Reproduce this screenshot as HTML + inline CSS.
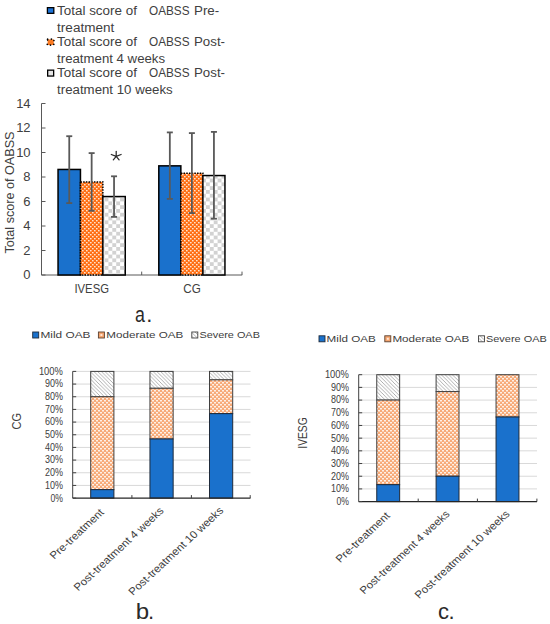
<!DOCTYPE html><html><head><meta charset="utf-8"><style>html,body{margin:0;padding:0;background:#fff;}svg{display:block;}text{font-family:"Liberation Sans",sans-serif;}</style></head><body>
<svg width="550" height="624" viewBox="0 0 550 624">
<defs>
<pattern id="or1" patternUnits="userSpaceOnUse" width="4" height="4"><rect width="4" height="4" fill="#ff6e12"/><rect x="0" y="0" width="1.6" height="1.4" fill="#ffe4cf"/><rect x="2" y="2" width="1.6" height="1.4" fill="#ffe4cf"/></pattern>
<pattern id="ck1" patternUnits="userSpaceOnUse" width="7.8" height="7.6" x="104.5" y="0"><rect width="7.8" height="7.6" fill="#ffffff"/><rect x="0" y="0" width="3.9" height="3.8" fill="#d2d2d2"/><rect x="3.9" y="3.8" width="3.9" height="3.8" fill="#d2d2d2"/></pattern>
<pattern id="or2" patternUnits="userSpaceOnUse" width="4" height="4"><rect width="4" height="4" fill="#f7aa78"/><rect x="0.1" y="0" width="1.8" height="1.5" fill="#fff8f2"/><rect x="2.1" y="2" width="1.8" height="1.5" fill="#fff8f2"/></pattern>
<pattern id="ht" patternUnits="userSpaceOnUse" width="3.7" height="3.7"><rect width="3.7" height="3.7" fill="#fff"/><path d="M-1,-1 L4.7,4.7 M-1,2.7 L1,4.7 M2.7,-1 L4.7,1" stroke="#a8a8a8" stroke-width="0.9"/></pattern>
</defs>
<text x="57.1" y="14.5" font-size="12" fill="#404040" text-anchor="start" textLength="79.8" lengthAdjust="spacingAndGlyphs" >Total score of</text>
<text x="149.0" y="14.5" font-size="12" fill="#404040" text-anchor="start" textLength="40.5" lengthAdjust="spacingAndGlyphs" >OABSS</text>
<text x="194.0" y="14.5" font-size="12" fill="#404040" text-anchor="start" textLength="25.2" lengthAdjust="spacingAndGlyphs" >Pre-</text>
<text x="57.1" y="31.9" font-size="12" fill="#404040" text-anchor="start" textLength="57.2" lengthAdjust="spacingAndGlyphs" >treatment</text>
<text x="57.1" y="46.3" font-size="12" fill="#404040" text-anchor="start" textLength="79.8" lengthAdjust="spacingAndGlyphs" >Total score of</text>
<text x="149.0" y="46.3" font-size="12" fill="#404040" text-anchor="start" textLength="40.5" lengthAdjust="spacingAndGlyphs" >OABSS</text>
<text x="194.0" y="46.3" font-size="12" fill="#404040" text-anchor="start" textLength="31.0" lengthAdjust="spacingAndGlyphs" >Post-</text>
<text x="57.1" y="63.4" font-size="12" fill="#404040" text-anchor="start" textLength="108.0" lengthAdjust="spacingAndGlyphs" >treatment 4 weeks</text>
<text x="57.1" y="77.4" font-size="12" fill="#404040" text-anchor="start" textLength="79.8" lengthAdjust="spacingAndGlyphs" >Total score of</text>
<text x="149.0" y="77.4" font-size="12" fill="#404040" text-anchor="start" textLength="40.5" lengthAdjust="spacingAndGlyphs" >OABSS</text>
<text x="194.0" y="77.4" font-size="12" fill="#404040" text-anchor="start" textLength="31.0" lengthAdjust="spacingAndGlyphs" >Post-</text>
<text x="57.1" y="94.4" font-size="12" fill="#404040" text-anchor="start" textLength="115.6" lengthAdjust="spacingAndGlyphs" >treatment 10 weeks</text>
<rect x="47.4" y="7.65" width="6.4" height="5.7" fill="#1d74d8" stroke="#000" stroke-width="1.3"/>
<rect x="47.6" y="39.4" width="6.2" height="5.6" fill="#f97a22"/>
<ellipse cx="47.6" cy="39.6" rx="0.8" ry="1.3" fill="#000"/>
<circle cx="51.4" cy="39.1" r="0.85" fill="#000"/>
<circle cx="53.9" cy="40.5" r="0.85" fill="#000"/>
<circle cx="47.3" cy="44.3" r="0.85" fill="#000"/>
<circle cx="50.5" cy="45.1" r="0.85" fill="#000"/>
<circle cx="53.8" cy="44.3" r="0.85" fill="#000"/>
<rect x="47.65" y="70.15" width="6.0" height="5.9" fill="#e4e4e4" stroke="#000" stroke-width="1.3"/>
<line x1="41.5" y1="103.5" x2="41.5" y2="275.0" stroke="#595959" stroke-width="1"/>
<line x1="41.5" y1="275.0" x2="45.5" y2="275.0" stroke="#595959" stroke-width="1"/>
<text x="30.6" y="279.25" font-size="13" fill="#404040" text-anchor="end" >0</text>
<line x1="41.5" y1="250.5" x2="45.5" y2="250.5" stroke="#595959" stroke-width="1"/>
<text x="30.6" y="254.75" font-size="13" fill="#404040" text-anchor="end" >2</text>
<line x1="41.5" y1="226.0" x2="45.5" y2="226.0" stroke="#595959" stroke-width="1"/>
<text x="30.6" y="230.25" font-size="13" fill="#404040" text-anchor="end" >4</text>
<line x1="41.5" y1="201.5" x2="45.5" y2="201.5" stroke="#595959" stroke-width="1"/>
<text x="30.6" y="205.75" font-size="13" fill="#404040" text-anchor="end" >6</text>
<line x1="41.5" y1="177.0" x2="45.5" y2="177.0" stroke="#595959" stroke-width="1"/>
<text x="30.6" y="181.25" font-size="13" fill="#404040" text-anchor="end" >8</text>
<line x1="41.5" y1="152.5" x2="45.5" y2="152.5" stroke="#595959" stroke-width="1"/>
<text x="30.6" y="156.75" font-size="13" fill="#404040" text-anchor="end" >10</text>
<line x1="41.5" y1="128.0" x2="45.5" y2="128.0" stroke="#595959" stroke-width="1"/>
<text x="30.6" y="132.25" font-size="13" fill="#404040" text-anchor="end" >12</text>
<line x1="41.5" y1="103.5" x2="45.5" y2="103.5" stroke="#595959" stroke-width="1"/>
<text x="30.6" y="107.75" font-size="13" fill="#404040" text-anchor="end" >14</text>
<line x1="41.5" y1="275.0" x2="242.2" y2="275.0" stroke="#595959" stroke-width="1"/>
<line x1="141.7" y1="271.6" x2="141.7" y2="275.0" stroke="#595959" stroke-width="1"/>
<line x1="242.0" y1="271.6" x2="242.0" y2="275.0" stroke="#595959" stroke-width="1"/>
<text transform="translate(13.7,192.5) rotate(-90)" x="0" y="0" font-size="12.4" fill="#404040" text-anchor="middle" textLength="122" lengthAdjust="spacingAndGlyphs">Total score of OABSS</text>
<rect x="58.05" y="169.45" width="22.4" height="105.55" fill="#1a71cc" stroke="#000" stroke-width="1.5"/>
<rect x="80.45" y="181.90" width="22.4" height="93.10" fill="url(#or1)" stroke="#000" stroke-width="1.5" stroke-dasharray="1.5 1.2"/>
<rect x="102.85" y="196.55" width="22.4" height="78.45" fill="url(#ck1)" stroke="#000" stroke-width="1.5"/>
<line x1="69.25" y1="136.2" x2="69.25" y2="203.1" stroke="#595959" stroke-width="1.8"/>
<line x1="66.25" y1="136.2" x2="72.25" y2="136.2" stroke="#595959" stroke-width="1.8"/>
<line x1="66.25" y1="203.1" x2="72.25" y2="203.1" stroke="#595959" stroke-width="1.8"/>
<line x1="91.65" y1="153.1" x2="91.65" y2="210.8" stroke="#595959" stroke-width="1.8"/>
<line x1="88.65" y1="153.1" x2="94.65" y2="153.1" stroke="#595959" stroke-width="1.8"/>
<line x1="88.65" y1="210.8" x2="94.65" y2="210.8" stroke="#595959" stroke-width="1.8"/>
<line x1="114.05" y1="176.3" x2="114.05" y2="216.9" stroke="#595959" stroke-width="1.8"/>
<line x1="111.05" y1="176.3" x2="117.05" y2="176.3" stroke="#595959" stroke-width="1.8"/>
<line x1="111.05" y1="216.9" x2="117.05" y2="216.9" stroke="#595959" stroke-width="1.8"/>
<rect x="158.80" y="165.85" width="22.05" height="109.15" fill="#1a71cc" stroke="#000" stroke-width="1.5"/>
<rect x="180.85" y="173.30" width="22.05" height="101.70" fill="url(#or1)" stroke="#000" stroke-width="1.5" stroke-dasharray="1.5 1.2"/>
<rect x="202.90" y="175.55" width="22.05" height="99.45" fill="url(#ck1)" stroke="#000" stroke-width="1.5"/>
<line x1="169.83" y1="132.4" x2="169.83" y2="198.9" stroke="#595959" stroke-width="1.8"/>
<line x1="166.83" y1="132.4" x2="172.83" y2="132.4" stroke="#595959" stroke-width="1.8"/>
<line x1="166.83" y1="198.9" x2="172.83" y2="198.9" stroke="#595959" stroke-width="1.8"/>
<line x1="191.88" y1="133.1" x2="191.88" y2="213.1" stroke="#595959" stroke-width="1.8"/>
<line x1="188.88" y1="133.1" x2="194.88" y2="133.1" stroke="#595959" stroke-width="1.8"/>
<line x1="188.88" y1="213.1" x2="194.88" y2="213.1" stroke="#595959" stroke-width="1.8"/>
<line x1="213.93" y1="131.9" x2="213.93" y2="218.7" stroke="#595959" stroke-width="1.8"/>
<line x1="210.93" y1="131.9" x2="216.93" y2="131.9" stroke="#595959" stroke-width="1.8"/>
<line x1="210.93" y1="218.7" x2="216.93" y2="218.7" stroke="#595959" stroke-width="1.8"/>
<line x1="116.2" y1="156.4" x2="116.2" y2="151.4" stroke="#2a2a2a" stroke-width="1.25" stroke-linecap="round"/>
<line x1="116.2" y1="156.4" x2="111.3" y2="154.5" stroke="#2a2a2a" stroke-width="1.25" stroke-linecap="round"/>
<line x1="116.2" y1="156.4" x2="121.10000000000001" y2="154.5" stroke="#2a2a2a" stroke-width="1.25" stroke-linecap="round"/>
<line x1="116.2" y1="156.4" x2="113.3" y2="159.8" stroke="#2a2a2a" stroke-width="1.25" stroke-linecap="round"/>
<line x1="116.2" y1="156.4" x2="119.10000000000001" y2="159.8" stroke="#2a2a2a" stroke-width="1.25" stroke-linecap="round"/>
<text x="91.7" y="293.1" font-size="12.5" fill="#404040" text-anchor="middle" textLength="34.5" lengthAdjust="spacingAndGlyphs" >IVESG</text>
<text x="192.0" y="293.1" font-size="12.5" fill="#404040" text-anchor="middle" textLength="17.5" lengthAdjust="spacingAndGlyphs" >CG</text>
<text x="135.1" y="321.6" font-size="22.5" fill="#2a2a2a" text-anchor="start" textLength="9.9" lengthAdjust="spacingAndGlyphs" >a</text>
<text x="146.2" y="321.6" font-size="22" fill="#2a2a2a" text-anchor="start" >.</text>
<line x1="72.7" y1="485.43" x2="250.5" y2="485.43" stroke="#d9d9d9" stroke-width="1"/>
<line x1="72.7" y1="472.76" x2="250.5" y2="472.76" stroke="#d9d9d9" stroke-width="1"/>
<line x1="72.7" y1="460.09" x2="250.5" y2="460.09" stroke="#d9d9d9" stroke-width="1"/>
<line x1="72.7" y1="447.42" x2="250.5" y2="447.42" stroke="#d9d9d9" stroke-width="1"/>
<line x1="72.7" y1="434.75" x2="250.5" y2="434.75" stroke="#d9d9d9" stroke-width="1"/>
<line x1="72.7" y1="422.08" x2="250.5" y2="422.08" stroke="#d9d9d9" stroke-width="1"/>
<line x1="72.7" y1="409.41" x2="250.5" y2="409.41" stroke="#d9d9d9" stroke-width="1"/>
<line x1="72.7" y1="396.74" x2="250.5" y2="396.74" stroke="#d9d9d9" stroke-width="1"/>
<line x1="72.7" y1="384.07" x2="250.5" y2="384.07" stroke="#d9d9d9" stroke-width="1"/>
<line x1="72.7" y1="371.40" x2="250.5" y2="371.40" stroke="#d9d9d9" stroke-width="1"/>
<rect x="90.70" y="371.40" width="23.2" height="25.34" fill="url(#ht)" stroke="#404040" stroke-width="1"/>
<rect x="90.70" y="396.74" width="23.2" height="92.91" fill="url(#or2)" stroke="#404040" stroke-width="1"/>
<rect x="90.70" y="489.65" width="23.2" height="8.45" fill="#1a71cc" stroke="#1e2a3a" stroke-width="1"/>
<rect x="149.95" y="371.40" width="23.2" height="16.89" fill="url(#ht)" stroke="#404040" stroke-width="1"/>
<rect x="149.95" y="388.29" width="23.2" height="50.68" fill="url(#or2)" stroke="#404040" stroke-width="1"/>
<rect x="149.95" y="438.97" width="23.2" height="59.13" fill="#1a71cc" stroke="#1e2a3a" stroke-width="1"/>
<rect x="209.50" y="371.40" width="23.2" height="8.45" fill="url(#ht)" stroke="#404040" stroke-width="1"/>
<rect x="209.50" y="379.85" width="23.2" height="33.78" fill="url(#or2)" stroke="#404040" stroke-width="1"/>
<rect x="209.50" y="413.63" width="23.2" height="84.47" fill="#1a71cc" stroke="#1e2a3a" stroke-width="1"/>
<line x1="72.7" y1="371.40" x2="72.7" y2="498.1" stroke="#404040" stroke-width="1"/>
<line x1="72.7" y1="498.1" x2="250.5" y2="498.1" stroke="#262626" stroke-width="1.2"/>
<line x1="72.7" y1="498.10" x2="76.2" y2="498.10" stroke="#404040" stroke-width="1"/>
<text x="62.9" y="501.5" font-size="10.3" fill="#404040" text-anchor="end" textLength="12.5" lengthAdjust="spacingAndGlyphs" >0%</text>
<line x1="72.7" y1="485.43" x2="76.2" y2="485.43" stroke="#404040" stroke-width="1"/>
<text x="62.9" y="488.83" font-size="10.3" fill="#404040" text-anchor="end" textLength="18.0" lengthAdjust="spacingAndGlyphs" >10%</text>
<line x1="72.7" y1="472.76" x2="76.2" y2="472.76" stroke="#404040" stroke-width="1"/>
<text x="62.9" y="476.15999999999997" font-size="10.3" fill="#404040" text-anchor="end" textLength="18.0" lengthAdjust="spacingAndGlyphs" >20%</text>
<line x1="72.7" y1="460.09" x2="76.2" y2="460.09" stroke="#404040" stroke-width="1"/>
<text x="62.9" y="463.49" font-size="10.3" fill="#404040" text-anchor="end" textLength="18.0" lengthAdjust="spacingAndGlyphs" >30%</text>
<line x1="72.7" y1="447.42" x2="76.2" y2="447.42" stroke="#404040" stroke-width="1"/>
<text x="62.9" y="450.82" font-size="10.3" fill="#404040" text-anchor="end" textLength="18.0" lengthAdjust="spacingAndGlyphs" >40%</text>
<line x1="72.7" y1="434.75" x2="76.2" y2="434.75" stroke="#404040" stroke-width="1"/>
<text x="62.9" y="438.15" font-size="10.3" fill="#404040" text-anchor="end" textLength="18.0" lengthAdjust="spacingAndGlyphs" >50%</text>
<line x1="72.7" y1="422.08" x2="76.2" y2="422.08" stroke="#404040" stroke-width="1"/>
<text x="62.9" y="425.47999999999996" font-size="10.3" fill="#404040" text-anchor="end" textLength="18.0" lengthAdjust="spacingAndGlyphs" >60%</text>
<line x1="72.7" y1="409.41" x2="76.2" y2="409.41" stroke="#404040" stroke-width="1"/>
<text x="62.9" y="412.80999999999995" font-size="10.3" fill="#404040" text-anchor="end" textLength="18.0" lengthAdjust="spacingAndGlyphs" >70%</text>
<line x1="72.7" y1="396.74" x2="76.2" y2="396.74" stroke="#404040" stroke-width="1"/>
<text x="62.9" y="400.14" font-size="10.3" fill="#404040" text-anchor="end" textLength="18.0" lengthAdjust="spacingAndGlyphs" >80%</text>
<line x1="72.7" y1="384.07" x2="76.2" y2="384.07" stroke="#404040" stroke-width="1"/>
<text x="62.9" y="387.46999999999997" font-size="10.3" fill="#404040" text-anchor="end" textLength="18.0" lengthAdjust="spacingAndGlyphs" >90%</text>
<line x1="72.7" y1="371.40" x2="76.2" y2="371.40" stroke="#404040" stroke-width="1"/>
<text x="62.9" y="374.79999999999995" font-size="10.3" fill="#404040" text-anchor="end" textLength="24.0" lengthAdjust="spacingAndGlyphs" >100%</text>
<line x1="131.90" y1="495.1" x2="131.90" y2="498.1" stroke="#404040" stroke-width="1"/>
<line x1="191.40" y1="495.1" x2="191.40" y2="498.1" stroke="#404040" stroke-width="1"/>
<line x1="250.20" y1="495.1" x2="250.20" y2="498.1" stroke="#404040" stroke-width="1"/>
<rect x="32.7" y="332.0" width="6" height="6" fill="#1a71cc" stroke="#1e2a3a" stroke-width="0.9"/>
<text x="40.5" y="338.4" font-size="9.8" fill="#404040" text-anchor="start" textLength="50" lengthAdjust="spacingAndGlyphs" >Mild OAB</text>
<rect x="98.4" y="332.0" width="6" height="6" fill="#f4a46e" stroke="#5a4030" stroke-width="0.9"/>
<rect x="100.4" y="334.0" width="2" height="2" fill="#fde6d6"/>
<text x="106.30000000000001" y="338.4" font-size="9.8" fill="#404040" text-anchor="start" textLength="77" lengthAdjust="spacingAndGlyphs" >Moderate OAB</text>
<rect x="191.8" y="332.0" width="6" height="6" fill="url(#ht)" stroke="#404040" stroke-width="0.9"/>
<text x="199.4" y="338.4" font-size="9.8" fill="#404040" text-anchor="start" textLength="60.5" lengthAdjust="spacingAndGlyphs" >Severe OAB</text>
<text transform="translate(21.1,421.3) rotate(-90)" x="0" y="0" font-size="13" fill="#404040" text-anchor="middle" textLength="16.4" lengthAdjust="spacingAndGlyphs">CG</text>
<text transform="translate(104.6,513.1) scale(1.075,1) rotate(-45)" x="0" y="0" font-size="10.5" fill="#404040" text-anchor="end" textLength="66.1" lengthAdjust="spacingAndGlyphs">Pre-treatment</text>
<text transform="translate(164.45,511.35) scale(1.075,1) rotate(-45)" x="0" y="0" font-size="10.5" fill="#404040" text-anchor="end" textLength="113.3" lengthAdjust="spacingAndGlyphs">Post-treatment 4 weeks</text>
<text transform="translate(224.1,511.25) scale(1.075,1) rotate(-45)" x="0" y="0" font-size="10.5" fill="#404040" text-anchor="end" textLength="119.8" lengthAdjust="spacingAndGlyphs">Post-treatment 10 weeks</text>
<text x="135.7" y="618.9" font-size="21.5" fill="#2a2a2a" text-anchor="start" textLength="13.4" lengthAdjust="spacingAndGlyphs" >b</text>
<text x="147.9" y="618.9" font-size="22" fill="#2a2a2a" text-anchor="start" >.</text>
<line x1="358.7" y1="488.91" x2="537.0" y2="488.91" stroke="#d9d9d9" stroke-width="1"/>
<line x1="358.7" y1="476.22" x2="537.0" y2="476.22" stroke="#d9d9d9" stroke-width="1"/>
<line x1="358.7" y1="463.53" x2="537.0" y2="463.53" stroke="#d9d9d9" stroke-width="1"/>
<line x1="358.7" y1="450.84" x2="537.0" y2="450.84" stroke="#d9d9d9" stroke-width="1"/>
<line x1="358.7" y1="438.15" x2="537.0" y2="438.15" stroke="#d9d9d9" stroke-width="1"/>
<line x1="358.7" y1="425.46" x2="537.0" y2="425.46" stroke="#d9d9d9" stroke-width="1"/>
<line x1="358.7" y1="412.77" x2="537.0" y2="412.77" stroke="#d9d9d9" stroke-width="1"/>
<line x1="358.7" y1="400.08" x2="537.0" y2="400.08" stroke="#d9d9d9" stroke-width="1"/>
<line x1="358.7" y1="387.39" x2="537.0" y2="387.39" stroke="#d9d9d9" stroke-width="1"/>
<line x1="358.7" y1="374.70" x2="537.0" y2="374.70" stroke="#d9d9d9" stroke-width="1"/>
<rect x="376.75" y="374.70" width="22.9" height="25.38" fill="url(#ht)" stroke="#404040" stroke-width="1"/>
<rect x="376.75" y="400.08" width="22.9" height="84.60" fill="url(#or2)" stroke="#404040" stroke-width="1"/>
<rect x="376.75" y="484.68" width="22.9" height="16.92" fill="#1a71cc" stroke="#1e2a3a" stroke-width="1"/>
<rect x="436.10" y="374.70" width="22.9" height="16.92" fill="url(#ht)" stroke="#404040" stroke-width="1"/>
<rect x="436.10" y="391.62" width="22.9" height="84.60" fill="url(#or2)" stroke="#404040" stroke-width="1"/>
<rect x="436.10" y="476.22" width="22.9" height="25.38" fill="#1a71cc" stroke="#1e2a3a" stroke-width="1"/>
<rect x="496.05" y="374.70" width="22.9" height="42.30" fill="url(#or2)" stroke="#404040" stroke-width="1"/>
<rect x="496.05" y="417.00" width="22.9" height="84.60" fill="#1a71cc" stroke="#1e2a3a" stroke-width="1"/>
<line x1="358.7" y1="374.70" x2="358.7" y2="501.6" stroke="#404040" stroke-width="1"/>
<line x1="358.7" y1="501.6" x2="537.0" y2="501.6" stroke="#262626" stroke-width="1.2"/>
<line x1="358.7" y1="501.60" x2="362.2" y2="501.60" stroke="#404040" stroke-width="1"/>
<text x="348.9" y="505.0" font-size="10.3" fill="#404040" text-anchor="end" textLength="12.5" lengthAdjust="spacingAndGlyphs" >0%</text>
<line x1="358.7" y1="488.91" x2="362.2" y2="488.91" stroke="#404040" stroke-width="1"/>
<text x="348.9" y="492.31" font-size="10.3" fill="#404040" text-anchor="end" textLength="18.0" lengthAdjust="spacingAndGlyphs" >10%</text>
<line x1="358.7" y1="476.22" x2="362.2" y2="476.22" stroke="#404040" stroke-width="1"/>
<text x="348.9" y="479.62" font-size="10.3" fill="#404040" text-anchor="end" textLength="18.0" lengthAdjust="spacingAndGlyphs" >20%</text>
<line x1="358.7" y1="463.53" x2="362.2" y2="463.53" stroke="#404040" stroke-width="1"/>
<text x="348.9" y="466.93" font-size="10.3" fill="#404040" text-anchor="end" textLength="18.0" lengthAdjust="spacingAndGlyphs" >30%</text>
<line x1="358.7" y1="450.84" x2="362.2" y2="450.84" stroke="#404040" stroke-width="1"/>
<text x="348.9" y="454.24" font-size="10.3" fill="#404040" text-anchor="end" textLength="18.0" lengthAdjust="spacingAndGlyphs" >40%</text>
<line x1="358.7" y1="438.15" x2="362.2" y2="438.15" stroke="#404040" stroke-width="1"/>
<text x="348.9" y="441.54999999999995" font-size="10.3" fill="#404040" text-anchor="end" textLength="18.0" lengthAdjust="spacingAndGlyphs" >50%</text>
<line x1="358.7" y1="425.46" x2="362.2" y2="425.46" stroke="#404040" stroke-width="1"/>
<text x="348.9" y="428.86" font-size="10.3" fill="#404040" text-anchor="end" textLength="18.0" lengthAdjust="spacingAndGlyphs" >60%</text>
<line x1="358.7" y1="412.77" x2="362.2" y2="412.77" stroke="#404040" stroke-width="1"/>
<text x="348.9" y="416.16999999999996" font-size="10.3" fill="#404040" text-anchor="end" textLength="18.0" lengthAdjust="spacingAndGlyphs" >70%</text>
<line x1="358.7" y1="400.08" x2="362.2" y2="400.08" stroke="#404040" stroke-width="1"/>
<text x="348.9" y="403.47999999999996" font-size="10.3" fill="#404040" text-anchor="end" textLength="18.0" lengthAdjust="spacingAndGlyphs" >80%</text>
<line x1="358.7" y1="387.39" x2="362.2" y2="387.39" stroke="#404040" stroke-width="1"/>
<text x="348.9" y="390.78999999999996" font-size="10.3" fill="#404040" text-anchor="end" textLength="18.0" lengthAdjust="spacingAndGlyphs" >90%</text>
<line x1="358.7" y1="374.70" x2="362.2" y2="374.70" stroke="#404040" stroke-width="1"/>
<text x="348.9" y="378.09999999999997" font-size="10.3" fill="#404040" text-anchor="end" textLength="24.0" lengthAdjust="spacingAndGlyphs" >100%</text>
<line x1="418.20" y1="498.6" x2="418.20" y2="501.6" stroke="#404040" stroke-width="1"/>
<line x1="477.40" y1="498.6" x2="477.40" y2="501.6" stroke="#404040" stroke-width="1"/>
<line x1="536.90" y1="498.6" x2="536.90" y2="501.6" stroke="#404040" stroke-width="1"/>
<rect x="319.0" y="335.8" width="6" height="6" fill="#1a71cc" stroke="#1e2a3a" stroke-width="0.9"/>
<text x="326.59999999999997" y="342.2" font-size="9.8" fill="#404040" text-anchor="start" textLength="49.2" lengthAdjust="spacingAndGlyphs" >Mild OAB</text>
<rect x="384.8" y="335.8" width="6" height="6" fill="#f4a46e" stroke="#5a4030" stroke-width="0.9"/>
<rect x="386.8" y="337.8" width="2" height="2" fill="#fde6d6"/>
<text x="392.4" y="342.2" font-size="9.8" fill="#404040" text-anchor="start" textLength="77" lengthAdjust="spacingAndGlyphs" >Moderate OAB</text>
<rect x="478.5" y="335.8" width="6" height="6" fill="url(#ht)" stroke="#404040" stroke-width="0.9"/>
<text x="486.0" y="342.2" font-size="9.8" fill="#404040" text-anchor="start" textLength="60.7" lengthAdjust="spacingAndGlyphs" >Severe OAB</text>
<text transform="translate(307.3,433.0) rotate(-90)" x="0" y="0" font-size="13" fill="#404040" text-anchor="middle" textLength="31.4" lengthAdjust="spacingAndGlyphs">IVESG</text>
<text transform="translate(390.5,516.5) scale(1.075,1) rotate(-45)" x="0" y="0" font-size="10.5" fill="#404040" text-anchor="end" textLength="66.1" lengthAdjust="spacingAndGlyphs">Pre-treatment</text>
<text transform="translate(450.35,514.75) scale(1.075,1) rotate(-45)" x="0" y="0" font-size="10.5" fill="#404040" text-anchor="end" textLength="113.3" lengthAdjust="spacingAndGlyphs">Post-treatment 4 weeks</text>
<text transform="translate(510.4,514.65) scale(1.075,1) rotate(-45)" x="0" y="0" font-size="10.5" fill="#404040" text-anchor="end" textLength="119.8" lengthAdjust="spacingAndGlyphs">Post-treatment 10 weeks</text>
<text x="438.1" y="619.0" font-size="22" fill="#2a2a2a" text-anchor="start" >c</text>
<text x="448.4" y="619.0" font-size="22" fill="#2a2a2a" text-anchor="start" >.</text>
</svg></body></html>
